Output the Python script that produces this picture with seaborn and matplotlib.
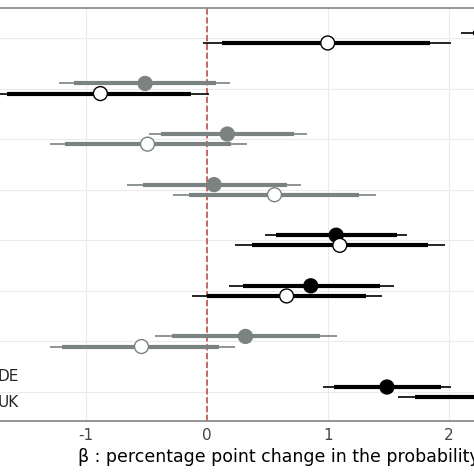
import matplotlib
matplotlib.use("Agg")
import matplotlib.pyplot as plt
import seaborn as sns
import pandas as pd

sns.set_theme(style="white")
plt.rcParams['font.family'] = ['DejaVu Sans']
plt.rcParams['axes.unicode_minus'] = False

rows = [0, 1, 2, 3, 4, 5, 6, 7]
# filled (upper) estimates
f_est = [2.60, -0.51, 0.17, 0.06, 1.07, 0.86, 0.32, 1.49]
f_lo90 = [2.20, -1.10, -0.38, -0.53, 0.57, 0.30, -0.29, 1.05]
f_hi90 = [3.00, 0.08, 0.72, 0.66, 1.57, 1.43, 0.94, 1.94]
f_lo95 = [2.10, -1.22, -0.48, -0.66, 0.48, 0.18, -0.43, 0.96]
f_hi95 = [3.10, 0.19, 0.83, 0.78, 1.66, 1.55, 1.08, 2.02]
f_col = ['black', 'grey', 'grey', 'grey', 'black', 'black', 'grey', 'black']
# open (lower) estimates
o_est = [1.00, -0.88, -0.49, 0.56, 1.10, 0.66, -0.54, 2.60]
o_lo90 = [0.13, -1.65, -1.17, -0.15, 0.37, 0.00, -1.20, 1.72]
o_hi90 = [1.85, -0.13, 0.20, 1.26, 1.83, 1.32, 0.10, 3.40]
o_lo95 = [-0.03, -1.80, -1.30, -0.28, 0.23, -0.12, -1.30, 1.58]
o_hi95 = [2.02, 0.02, 0.33, 1.40, 1.97, 1.45, 0.23, 3.60]
o_col = ['black', 'black', 'grey', 'grey', 'black', 'black', 'grey', 'black']

cmap = {'black': '#000000', 'grey': '#7a8282'}
off = 0.1

fig = plt.figure(figsize=(4.74, 4.74), dpi=100)
ax = fig.add_axes([0.0, 0.112, 1.0, 0.871])

for i in rows:
    for est, lo9, hi9, lo5, hi5, col, dy in [
        (f_est, f_lo90, f_hi90, f_lo95, f_hi95, f_col, -off),
        (o_est, o_lo90, o_hi90, o_lo95, o_hi95, o_col, off)]:
        c = cmap[col[i]]
        y = i + dy
        ax.hlines(y, lo5[i], hi5[i], color=c, lw=1.2, zorder=2)
        ax.hlines(y, lo9[i], hi9[i], color=c, lw=3, zorder=2)

df_f = pd.DataFrame({'x': f_est, 'y': [r - off for r in rows], 'c': f_col})
df_o = pd.DataFrame({'x': o_est, 'y': [r + off for r in rows], 'c': o_col})
sns.scatterplot(data=df_f, x='x', y='y', hue='c', palette=cmap, s=100,
                edgecolor=df_f['c'].map(cmap), linewidth=1, legend=False, ax=ax, zorder=3)
sns.scatterplot(data=df_o, x='x', y='y', s=100, color='white',
                edgecolor=df_o['c'].map(cmap), linewidth=1, legend=False, ax=ax, zorder=3)

ax.axvline(0, color='#c0504d', ls='--', lw=1.2, zorder=1)
ax.set_xlim(-1.71, 2.21)
ax.set_ylim(7.57, -0.59)
ax.set_xticks([-1, 0, 1, 2])
ax.set_yticks(rows)
ax.set_yticklabels([])
ax.grid(True, color='#ebebeb', lw=0.8)
ax.set_axisbelow(True)
for s in ['left', 'right']:
    ax.spines[s].set_visible(False)
for s in ['top', 'bottom']:
    ax.spines[s].set_color('#888888')
ax.tick_params(axis='x', length=3, color='#888888', labelsize=11, labelcolor='#444444', pad=2)
ax.tick_params(axis='y', length=0)
ax.set_xlabel('β : percentage point change in the probability of undereducation',
              fontsize=12.5, color='black')
ax.xaxis.set_label_coords(0.165, -0.065)
ax.xaxis.label.set_horizontalalignment('left')
ax.text(-1.73, 6.7, 'DE', fontsize=11, va='center', ha='left')
ax.text(-1.73, 7.2, 'UK', fontsize=11, va='center', ha='left')

fig.savefig('out.png', dpi=100)
